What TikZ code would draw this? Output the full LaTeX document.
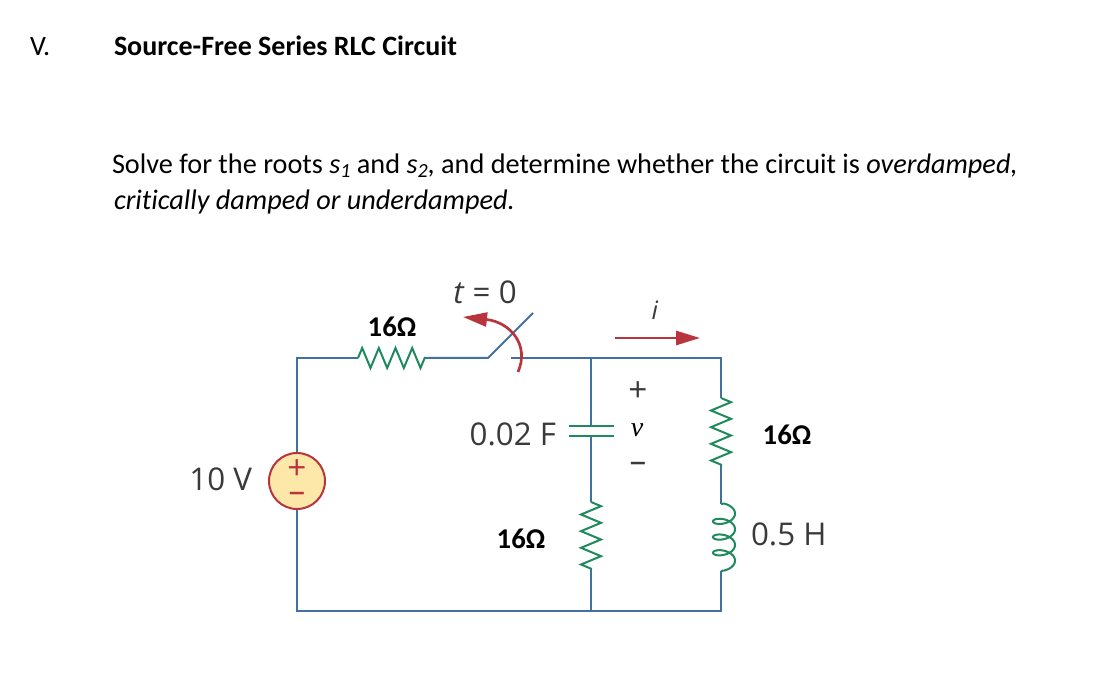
\documentclass[tikz,border=0pt]{standalone}
\usepackage{fontspec}
\setmainfont[Ligatures={TeX,NoCommon}]{Carlito}
\newfontfamily\lightfont{Open Sans}
\newfontfamily\serifvar{Liberation Serif}
\newcommand{\rootsym}[1]{\textit{s\raisebox{-0.12em}{\fontsize{15}{15}\selectfont #1}}}
\usetikzlibrary{arrows.meta}
\usetikzlibrary{decorations.pathmorphing}
\definecolor{wireblue}{HTML}{41719F}
\definecolor{partgreen}{HTML}{1E8A5E}
\definecolor{markred}{HTML}{B9343C}
\definecolor{srcyellow}{HTML}{FDE8A9}
\definecolor{labelgrey}{HTML}{3A3A3A}
\tikzset{
  wire/.style={draw=wireblue,line width=1.5pt},
  res/.style={draw=partgreen,line width=1.5pt,decorate,decoration={zigzag,amplitude=7.5pt,segment length=12.5pt}},
  coilline/.style={draw=partgreen,line width=1.5pt},
  plate/.style={draw=partgreen,line width=1.8pt},
  flow/.style={draw=markred,line width=2pt,-{Triangle[length=18pt,width=10.5pt]}},
  txt/.style={anchor=base west,inner sep=0pt,outer sep=0pt,text=black},
  partlabel/.style={anchor=base,inner sep=0pt,outer sep=0pt,font=\fontsize{21.5}{23}\selectfont\bfseries},
  vallabel/.style={anchor=base,inner sep=0pt,outer sep=0pt,text=labelgrey,font=\fontsize{23.5}{25}\selectfont\lightfont}
}
\begin{document}
\begin{tikzpicture}[x=0.75pt,y=-0.75pt]
\useasboundingbox (0,0) rectangle (1112,680);
\fill[white] (0,0) rectangle (1112,680);
% text
\node[txt,font=\fontsize{21}{23}\selectfont] (num) at (30,55.5) {V.};
\node[txt,font=\fontsize{21}{23}\selectfont\bfseries] (title) at (114,55.5) {Source-Free Series RLC Circuit};
\node[txt,font=\fontsize{21.2}{23}\selectfont] (lineone) at (112,174) {Solve for the roots \rootsym{1} and \rootsym{2}, and determine whether the circuit is \textit{overdamped,}};
\node[txt,font=\fontsize{21.2}{23}\selectfont\itshape] (linetwo) at (114,210) {critically damped or underdamped.};

% corners and junctions
\coordinate (tl) at (297,358);
\coordinate (bl) at (297,611);
\coordinate (tm) at (591,358);
\coordinate (bm) at (591,611);
\coordinate (tr) at (721,358);
\coordinate (br) at (721,611);

\node[circle,draw=markred,fill=srcyellow,line width=1.5pt,minimum size=42pt,inner sep=0pt,align=center,text=markred,font=\fontsize{25}{17.5}\selectfont\lightfont] (src) at (297,481) {+\\–};

\coordinate (r1a) at (358,358);
\coordinate (r1b) at (425,358);
\coordinate (swa) at (488,358);
\coordinate (swb) at (533,313);
\coordinate (swc) at (511,358);
\coordinate (capa) at (591,426);
\coordinate (capb) at (591,436);
\coordinate (r2a) at (591,502);
\coordinate (r2b) at (591,569);
\coordinate (r3a) at (721,398);
\coordinate (r3b) at (721,466);
\coordinate (la) at (721,504);
\coordinate (lb) at (721,571);

% wires
\draw[wire] (src.north) -- (tl) -- (r1a);
\draw[wire] (r1b) -- (swa) -- (swb);
\draw[wire] (swc) -- (tm) -- (tr) -- (r3a);
\draw[wire] (tm) -- (capa);
\draw[wire] (capb) -- (r2a);
\draw[wire] (r2b) -- (bm);
\draw[wire] (r3b) -- (la);
\draw[wire] (lb) -- (br) -- (bl) -- (src.south);

% parts
\draw[res] (r1a) -- (r1b);
\draw[res] (r2a) -- (r2b);
\draw[res] (r3a) -- (r3b);
\draw[coilline] (la) -- plot[domain=-90:1170,samples=180,smooth] ({724+11*cos(\x)},{513.5+2.5*\x*pi/180+6*sin(\x)}) -- (lb);
\coordinate (capal) at (569,426);
\coordinate (capar) at (614,426);
\coordinate (capbl) at (569,436);
\coordinate (capbr) at (614,436);
\draw[plate] (capal) -- (capar);
\draw[plate] (capbl) -- (capbr);

% red arrows
\coordinate (arca) at (518,372);
\coordinate (arcb) at (463,317);
\coordinate (ia) at (615,338);
\coordinate (ib) at (700,338);
\draw[flow] (arca) .. controls (530,345) and (510,322) .. (arcb);
\draw[flow] (ia) -- (ib);

% labels
\node[vallabel] (tlab) at (485,304) {\textit{t} = 0};
\node[partlabel] (r1lab) at (392,337) {16Ω};
\node[vallabel,anchor=base east] (vlab) at (252,490) {10 V};
\node[vallabel,anchor=base east] (clab) at (556,445) {0.02 F};
\node[partlabel] (r2lab) at (521,548) {16Ω};
\node[partlabel] (r3lab) at (787,444) {16Ω};
\node[vallabel,anchor=base west] (llab) at (751,545) {0.5 H};
\node[vallabel,font=\fontsize{19}{20}\selectfont\lightfont] (ilab) at (655,320) {\textit{i}};
\node[vallabel,font=\fontsize{25}{27}\selectfont\lightfont] (vplus) at (638,401) {+};
\node[inner sep=0pt,anchor=base,font=\fontsize{21}{22}\selectfont\serifvar\itshape] (vlabel) at (637,436) {v};
\node[vallabel,font=\fontsize{25}{27}\selectfont\lightfont] (vminus) at (638,472) {–};
\end{tikzpicture}
\end{document}
